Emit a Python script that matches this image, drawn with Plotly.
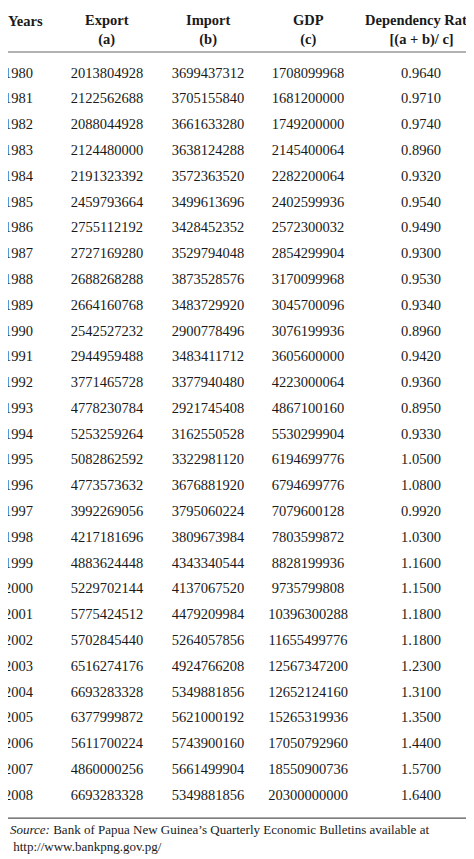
import plotly.graph_objects as go

years = list(range(1980, 2009))
export = ['2013804928', '2122562688', '2088044928', '2124480000', '2191323392', '2459793664',
          '2755112192', '2727169280', '2688268288', '2664160768', '2542527232', '2944959488',
          '3771465728', '4778230784', '5253259264', '5082862592', '4773573632', '3992269056',
          '4217181696', '4883624448', '5229702144', '5775424512', '5702845440', '6516274176',
          '6693283328', '6377999872', '5611700224', '4860000256', '6693283328']
imports = ['3699437312', '3705155840', '3661633280', '3638124288', '3572363520', '3499613696',
           '3428452352', '3529794048', '3873528576', '3483729920', '2900778496', '3483411712',
           '3377940480', '2921745408', '3162550528', '3322981120', '3676881920', '3795060224',
           '3809673984', '4343340544', '4137067520', '4479209984', '5264057856', '4924766208',
           '5349881856', '5621000192', '5743900160', '5661499904', '5349881856']
gdp = ['1708099968', '1681200000', '1749200000', '2145400064', '2282200064', '2402599936',
       '2572300032', '2854299904', '3170099968', '3045700096', '3076199936', '3605600000',
       '4223000064', '4867100160', '5530299904', '6194699776', '6794699776', '7079600128',
       '7803599872', '8828199936', '9735799808', '10396300288', '11655499776', '12567347200',
       '12652124160', '15265319936', '17050792960', '18550900736', '20300000000']
ratio = ['0.9640', '0.9710', '0.9740', '0.8960', '0.9320', '0.9540', '0.9490', '0.9300',
         '0.9530', '0.9340', '0.8960', '0.9420', '0.9360', '0.8950', '0.9330', '1.0500',
         '1.0800', '0.9920', '1.0300', '1.1600', '1.1500', '1.1800', '1.1800', '1.2300',
         '1.3100', '1.3500', '1.4400', '1.5700', '1.6400']
headers = ['Years<br> ', 'Export<br>(a)', 'Import<br>(b)', 'GDP<br>(c)', 'Dependency Ratio<br>[(a + b)/ c]']

FONT = 'Liberation Serif'
INK = '#1a1a1a'
col_x = [-4, 99, 200, 300, 413]

fig = go.Figure()
cols = [[str(y) for y in years], export, imports, gdp, ratio]
for i, vals in enumerate(cols):
    fig.add_trace(go.Scatter(
        x=[col_x[i]] * len(years), y=years, text=vals, mode='text',
        textposition='middle right' if i == 0 else 'middle center',
        textfont=dict(family=FONT, size=14.5, color=INK),
        hoverinfo='skip', showlegend=False,
    ))

anns = []
for i, h in enumerate(headers):
    anns.append(dict(x=max(col_x[i], 0), y=1977.44 + 22 / 25.786, xref='x', yref='y', text='<b>' + h + '</b>',
                     showarrow=False, xanchor='left' if i == 0 else 'center', yanchor='middle',
                     xshift=-2 if i == 0 else 0,
                     align='left' if i == 0 else 'center', font=dict(family=FONT, size=14.5, color=INK)))
anns.append(dict(x=0, y=1977.44 + 830 / 25.786, xref='x', yref='y', xanchor='left', yanchor='middle', align='left',
                 showarrow=False, font=dict(family=FONT, size=13, color=INK),
                 text='<i>Source:</i> Bank of Papua New Guinea’s Quarterly Economic Bulletins available at<br> http://www.bankpng.gov.pg/'))

fig.update_layout(
    width=474, height=859, margin=dict(l=0, r=0, t=0, b=0),
    plot_bgcolor='white', paper_bgcolor='white',
    xaxis=dict(range=[0, 474], visible=False, fixedrange=True),
    yaxis=dict(range=[2010.75, 1977.44], visible=False, fixedrange=True),
    annotations=anns,
    shapes=[
        dict(type='line', xref='paper', yref='y', x0=0, x1=1, y0=1977.44 + 44 / 25.786, y1=1977.44 + 44 / 25.786,
             line=dict(color='#666666', width=1.2)),
        dict(type='line', xref='paper', yref='y', x0=0, x1=1, y0=1977.44 + 810 / 25.786, y1=1977.44 + 810 / 25.786,
             line=dict(color='#555555', width=1.2)),
    ],
)

fig.write_html('out.html')
